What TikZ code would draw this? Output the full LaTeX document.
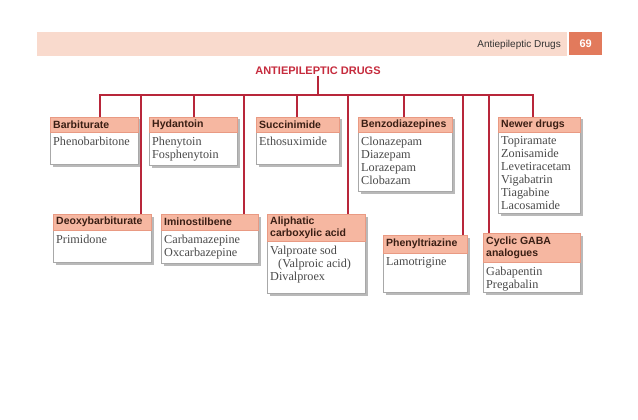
\documentclass[tikz,border=0pt]{standalone}
\usepackage{fontspec}
\setmainfont{Liberation Serif}
\setsansfont{Liberation Sans}
\definecolor{bandc}{HTML}{F9DACD}
\definecolor{pagec}{HTML}{E27A5C}
\definecolor{linec}{HTML}{B8263A}
\definecolor{titlec}{HTML}{C62B3D}
\definecolor{headc}{HTML}{F6B7A1}
\definecolor{headd}{HTML}{E99A83}
\definecolor{boxd}{HTML}{A8A8A8}
\definecolor{shadc}{HTML}{B9B9B9}
\definecolor{bodyt}{HTML}{4A4A4A}
\definecolor{headt}{HTML}{3A1E14}
\tikzset{
  conn/.style={draw=linec, line width=1.8pt},
  bodybox/.style={draw=boxd, fill=white, line width=0.6pt, inner sep=0pt, outer sep=0pt},
  headbox/.style={draw=headd, fill=headc, line width=0.6pt, inner sep=0pt, outer sep=0pt},
  headtext/.style={font=\sffamily\bfseries\fontsize{10.5}{12}\selectfont, text=headt, align=left, inner sep=0pt},
  bodytext/.style={font=\rmfamily\fontsize{12.2}{13}\selectfont, text=bodyt, align=left, inner sep=0pt},
}
% name, x, y, width, header height, total height, header, body
\newcommand\drugbox[8]{%
  \fill[shadc] (#2+2.5,-#3-2.5) rectangle (#2+#4+2.5,-#3-#6-2.5);
  \node[bodybox, minimum width=#4pt, minimum height=#6pt, anchor=north west] (#1) at (#2,-#3) {};
  \node[headbox, minimum width=#4pt, minimum height=#5pt, anchor=north west] (#1h) at (#2,-#3) {};
  \node[headtext, anchor=west] (#1t) at (#2+3,-#3-#5/2) {#7};
  \node[bodytext, anchor=north west] (#1b) at (#2+3,-#3-#5-4.5) {#8};
}
\begin{document}
\begin{tikzpicture}[x=1pt,y=1pt]
\useasboundingbox (0,0) rectangle (638,-420);
\fill[white] (0,0) rectangle (638,-420);
% page header band
\node[fill=bandc, minimum width=530pt, minimum height=24pt, anchor=north west, inner sep=0pt] (band) at (37,-32) {};
\node[fill=pagec, minimum width=33pt, minimum height=23pt, anchor=north west, inner sep=0pt,
      font=\sffamily\bfseries\fontsize{11}{13}\selectfont, text=white] (page) at (569,-32) {69};
\node[anchor=east, inner sep=0pt, font=\sffamily\fontsize{10}{12}\selectfont, text=black!80] (runhead) at (561,-44.5) {Antiepileptic Drugs};
% title
\node[font=\sffamily\bfseries\fontsize{11}{12}\selectfont, text=titlec, inner sep=1pt] (title) at (318,-70.5) {ANTIEPILEPTIC DRUGS};
% boxes
\drugbox{barb}{50}{117}{88}{15}{47}{Barbiturate}{Phenobarbitone}
\drugbox{hyd}{149}{117}{88}{15}{48}{Hydantoin}{Phenytoin\\Fosphenytoin}
\drugbox{succ}{256}{117}{83}{15}{47}{Succinimide}{Ethosuximide}
\drugbox{benz}{358}{117}{94}{15}{74}{Benzodiazepines}{Clonazepam\\Diazepam\\Lorazepam\\Clobazam}
\drugbox{newer}{498}{117}{82}{15}{96}{Newer drugs}{Topiramate\\Zonisamide\\Levetiracetam\\Vigabatrin\\Tiagabine\\Lacosamide}
\drugbox{deoxy}{53}{214}{98}{16}{48}{Deoxybarbiturate}{Primidone}
\drugbox{imino}{161}{214}{97}{16}{49}{Iminostilbene}{Carbamazepine\\Oxcarbazepine}
\drugbox{aliph}{267}{214}{98}{27}{79}{Aliphatic\\carboxylic acid}{Valproate sod\\\hspace*{8pt}(Valproic acid)\\Divalproex}
\drugbox{phen}{383}{235}{84}{18}{57}{Phenyltriazine}{Lamotrigine}
\drugbox{gaba}{483}{233}{97}{29}{59}{Cyclic GABA\\analogues}{Gabapentin\\Pregabalin}
% bus coordinates
\coordinate (bL) at (100,-95);
\coordinate (bR) at (533,-95);
\coordinate (bM) at (318,-95);
\coordinate (b2) at (141,-95);
\coordinate (b3) at (194,-95);
\coordinate (b4) at (244,-95);
\coordinate (b5) at (297,-95);
\coordinate (b6) at (348,-95);
\coordinate (b7) at (404,-95);
\coordinate (b8) at (463,-95);
\coordinate (b9) at (489,-95);
% connectors
\draw[conn] (title.south) -- (bM);
\draw[conn, line join=miter] (bL |- barbh.north) -- (bL) -- (bR) -- (bR |- newerh.north);
\draw[conn] (b2) -- (b2 |- deoxyh.north);
\draw[conn] (b3) -- (b3 |- hydh.north);
\draw[conn] (b4) -- (b4 |- iminoh.north);
\draw[conn] (b5) -- (b5 |- succh.north);
\draw[conn] (b6) -- (b6 |- aliphh.north);
\draw[conn] (b7) -- (b7 |- benzh.north);
\draw[conn] (b8) -- (b8 |- phenh.north);
\draw[conn] (b9) -- (b9 |- gabah.north);
\end{tikzpicture}
\end{document}
